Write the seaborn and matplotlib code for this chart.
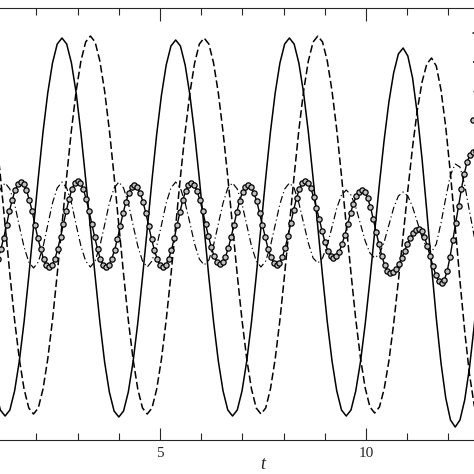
import numpy as np
import seaborn as sns
import matplotlib.pyplot as plt
from matplotlib.ticker import MultipleLocator

# sample times of the traces
t_mid = 1.01 + 0.115 * np.arange(103)
t_fast = 1.068 + 0.069 * np.arange(169)

# solid trace
solid = [
    -1.67, -1.86, -1.92,
    -1.86, -1.67, -1.37, -0.98, -0.52, -0.03, 0.46, 0.92, 1.31, 1.61, 1.80, 1.86,
    1.80, 1.61, 1.31, 0.91, 0.45, -0.04, -0.52, -0.98, -1.38, -1.68, -1.87, -1.93,
    -1.87, -1.68, -1.38, -0.99, -0.53, -0.05, 0.44, 0.90, 1.29, 1.59, 1.78, 1.84,
    1.78, 1.59, 1.29, 0.90, 0.45, -0.04, -0.53, -0.98, -1.37, -1.67, -1.86, -1.92,
    -1.86, -1.67, -1.37, -0.98, -0.52, -0.03, 0.46, 0.92, 1.31, 1.61, 1.80, 1.86,
    1.80, 1.61, 1.31, 0.92, 0.46, -0.03, -0.52, -0.98, -1.37, -1.67, -1.86, -1.92,
    -1.86, -1.67, -1.38, -1.00, -0.56, -0.08, 0.40, 0.84, 1.22, 1.51, 1.70, 1.76,
    1.68, 1.46, 1.10, 0.65, 0.13, -0.42, -0.94, -1.39, -1.74, -1.96, -2.03,
    -1.96, -1.76, -1.44, -1.02, -0.54,
]

# dashed trace
dashed = [
    0.94, 0.48, -0.01, -0.50, -0.96, -1.35, -1.65, -1.84, -1.90,
    -1.84, -1.65, -1.35, -0.96, -0.50, -0.01, 0.48, 0.94, 1.33, 1.63, 1.82, 1.88,
    1.82, 1.63, 1.33, 0.94, 0.48, -0.01, -0.50, -0.96, -1.35, -1.65, -1.84, -1.90,
    -1.84, -1.65, -1.35, -0.96, -0.51, -0.02, 0.47, 0.92, 1.31, 1.61, 1.80, 1.86,
    1.80, 1.61, 1.31, 0.92, 0.47, -0.02, -0.51, -0.96, -1.35, -1.65, -1.84, -1.90,
    -1.84, -1.65, -1.35, -0.96, -0.50, -0.01, 0.48, 0.94, 1.33, 1.63, 1.82, 1.88,
    1.82, 1.63, 1.33, 0.94, 0.48, -0.01, -0.49, -0.95, -1.34, -1.64, -1.83, -1.89,
    -1.83, -1.65, -1.37, -1.00, -0.57, -0.12, 0.34, 0.77, 1.14, 1.42, 1.60, 1.66,
    1.58, 1.34, 0.97, 0.50, -0.03, -0.57, -1.07, -1.50, -1.81, -1.98,
]

# dash-dot trace
dashdot = [
    0.20, 0.35, 0.41, 0.35, 0.20, -0.02, -0.23, -0.38, -0.44, -0.38,
    -0.23, -0.01, 0.21, 0.36, 0.42, 0.36, 0.21, -0.01, -0.22, -0.37,
    -0.43, -0.37, -0.22, -0.01, 0.21, 0.36, 0.42, 0.36, 0.21, -0.01,
    -0.22, -0.37, -0.43, -0.37, -0.22, -0.01, 0.21, 0.36, 0.42, 0.36,
    0.21, 0.01, -0.20, -0.35, -0.41, -0.36, -0.21, 0.00, 0.21, 0.36,
    0.41, 0.35, 0.20, -0.01, -0.22, -0.37, -0.43, -0.37, -0.22, -0.01,
    0.20, 0.35, 0.41, 0.36, 0.21, 0.01, -0.19, -0.34, -0.39, -0.34,
    -0.21, -0.03, 0.16, 0.29, 0.34, 0.29, 0.17, 0.00, -0.17, -0.29,
    -0.34, -0.30, -0.18, -0.01, 0.16, 0.28, 0.32, 0.28, 0.17, 0.02,
    -0.13, -0.24, -0.28, -0.20, 0.01, 0.26, 0.49, 0.60, 0.57, 0.39,
    0.13, -0.12, -0.28,
]

# trace with circle markers
circles = [
    -0.35, -0.25, -0.14, -0.01, 0.13, 0.24, 0.34, 0.40, 0.42, 0.40,
    0.34, 0.24, 0.13, -0.01, -0.14, -0.25, -0.35, -0.41, -0.43, -0.41,
    -0.35, -0.25, -0.13, 0.00, 0.13, 0.25, 0.35, 0.41, 0.43, 0.41,
    0.35, 0.25, 0.13, 0.00, -0.13, -0.25, -0.35, -0.41, -0.43, -0.41,
    -0.35, -0.26, -0.15, -0.02, 0.11, 0.22, 0.31, 0.37, 0.39, 0.37,
    0.31, 0.22, 0.11, -0.02, -0.15, -0.26, -0.35, -0.41, -0.43, -0.41,
    -0.35, -0.26, -0.14, -0.01, 0.12, 0.24, 0.33, 0.39, 0.41, 0.39,
    0.33, 0.24, 0.13, 0.00, -0.12, -0.23, -0.32, -0.38, -0.40, -0.38,
    -0.33, -0.24, -0.13, -0.01, 0.12, 0.23, 0.32, 0.37, 0.39, 0.37,
    0.31, 0.23, 0.11, -0.01, -0.13, -0.25, -0.33, -0.39, -0.41, -0.39,
    -0.33, -0.24, -0.12, 0.01, 0.14, 0.26, 0.35, 0.41, 0.43, 0.41,
    0.36, 0.27, 0.16, 0.05, -0.07, -0.18, -0.27, -0.32, -0.34, -0.32,
    -0.28, -0.20, -0.11, 0.00, 0.11, 0.20, 0.28, 0.32, 0.34, 0.32,
    0.26, 0.17, 0.05, -0.08, -0.20, -0.32, -0.41, -0.47, -0.49, -0.48,
    -0.45, -0.40, -0.34, -0.27, -0.20, -0.14, -0.09, -0.06, -0.05, -0.07,
    -0.13, -0.22, -0.32, -0.42, -0.51, -0.57, -0.59, -0.56, -0.47, -0.33,
    -0.16, 0.01, 0.18, 0.35, 0.50, 0.62, 0.69, 0.72, 0.73,
]

x_ticks = [0, 5, 10, 15]
# legend texts run past the right edge of the cropped picture
legend_labels = ['$q_1$', '$q_2$', '$q_3$', '$q_4$']

sns.set_style('ticks')
plt.rcParams['font.family'] = ['Liberation Serif', 'DejaVu Serif']
plt.rcParams['mathtext.fontset'] = 'stix'

fig = plt.figure(figsize=(4.74, 4.74), dpi=100)
# the plot is cropped: left and right axes edges lie outside the picture
ax = fig.add_axes([-0.097, 0.0717, 1.3038, 0.9114])

sns.lineplot(x=t_mid, y=solid, ax=ax, color='k', lw=1.1)
sns.lineplot(x=t_mid, y=dashed, ax=ax, color='k', lw=1.1,
             linestyle=(0, (5, 2.2)))
sns.lineplot(x=t_mid, y=dashdot, ax=ax, color='k', lw=0.85,
             linestyle=(0, (6, 2.5, 1, 2.5)))
sns.lineplot(x=t_fast, y=circles, ax=ax, color='k', lw=1.0, marker='o',
             markersize=3.8, markerfacecolor='#c0c0c0', markeredgecolor='k',
             markeredgewidth=0.9)

ax.set_xlim(0, 15)
ax.set_ylim(-2.16, 2.16)
ax.set_xticks(x_ticks)
ax.xaxis.set_minor_locator(MultipleLocator(1))
ax.set_yticks([])
ax.tick_params(axis='x', which='both', direction='in', top=True, bottom=True,
               width=0.8, labelsize=11, pad=5)
ax.tick_params(axis='x', which='major', length=9)
ax.tick_params(axis='x', which='minor', length=5)
for s in ax.spines.values():
    s.set_linewidth(0.8)
ax.set_xlabel('t', fontsize=13, fontstyle='italic', labelpad=-3)

ax.legend(ax.get_lines()[:4], legend_labels, loc='upper left',
          bbox_to_anchor=(0.833, 0.954), frameon=False, borderaxespad=0,
          borderpad=0, handlelength=2.5, labelspacing=1.0, numpoints=2,
          fontsize=10)

fig.savefig('out.png', dpi=100)
